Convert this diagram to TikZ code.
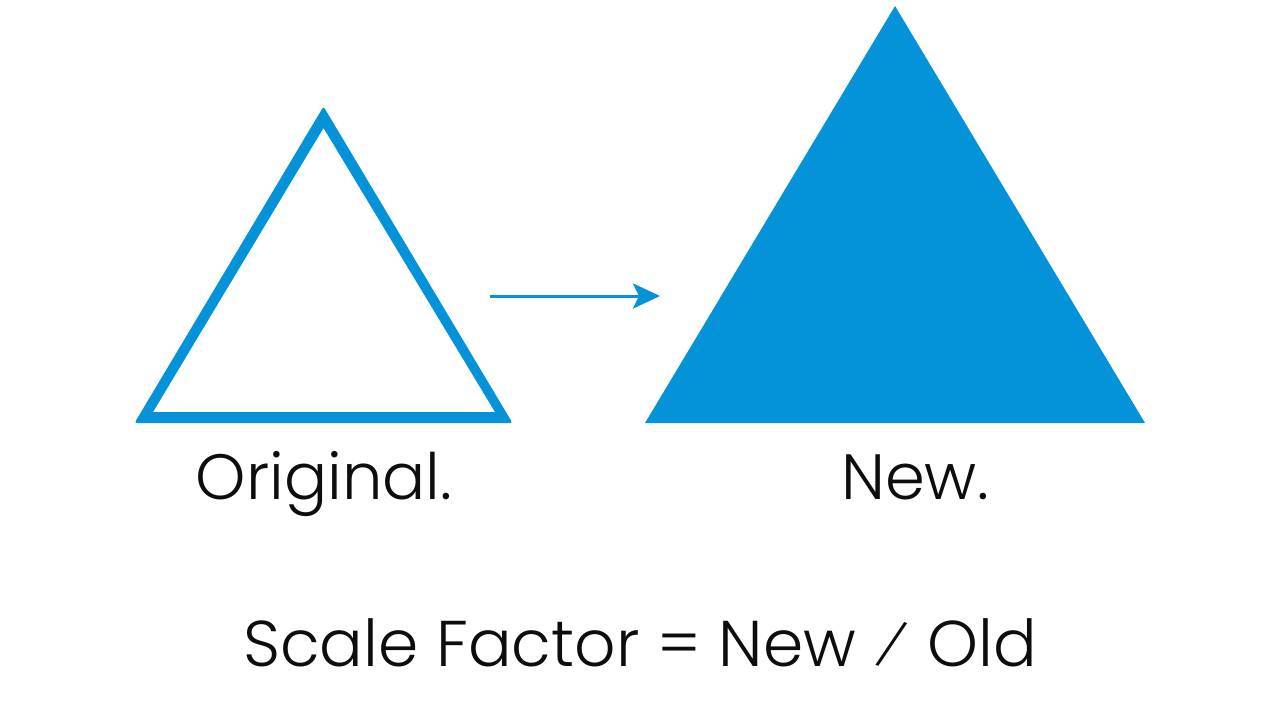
\documentclass[tikz,border=0pt]{standalone}
\usepackage{fontspec}
\setmainfont{Poppins Light}[Ligatures=TeX]
\usetikzlibrary{arrows.meta}
\definecolor{tri}{HTML}{0492D9}
\tikzset{
 lbl/.style={inner sep=0pt,text=black!95,font=\fontsize{64}{64}\selectfont,anchor=base},
 lblb/.style={inner sep=0pt,text=black!95,font=\fontsize{64.7}{64.7}\selectfont,anchor=base},
}
\newcommand{\shortslash}{\raisebox{0.07em}{\rotatebox[origin=c]{-20}{\scalebox{0.7}{/}}}}
\begin{document}
\begin{tikzpicture}[x=1pt,y=-1pt]
\useasboundingbox (0,0) rectangle (1280,720);
\fill[white] (0,0) rectangle (1280,720);
\fill[tri,even odd rule] [rounded corners=2.5pt] (323.5,106.5) -- (134.5,423) -- (512.5,423) -- cycle
  [sharp corners] (323.5,128) -- (153,412) -- (495,412) -- cycle;
\coordinate (na) at (895,6);
\coordinate (nb) at (645,423);
\coordinate (nc) at (1145,423);
\fill[tri] (na) -- (nb) -- (nc) -- cycle;
\coordinate (as) at (490,296);
\coordinate (ae) at (660,296);
\draw[tri,line width=3pt,-{Stealth[length=27pt,width=25pt,inset=6pt]}] (as) -- (ae);
\node[lbl] (orig) at (324,499) {Original.};
\node[lbl] (new) at (915,499) {New.};
\node[lblb] (sf) at (640,666) {Scale Factor = New \shortslash{} Old};
\end{tikzpicture}
\end{document}
